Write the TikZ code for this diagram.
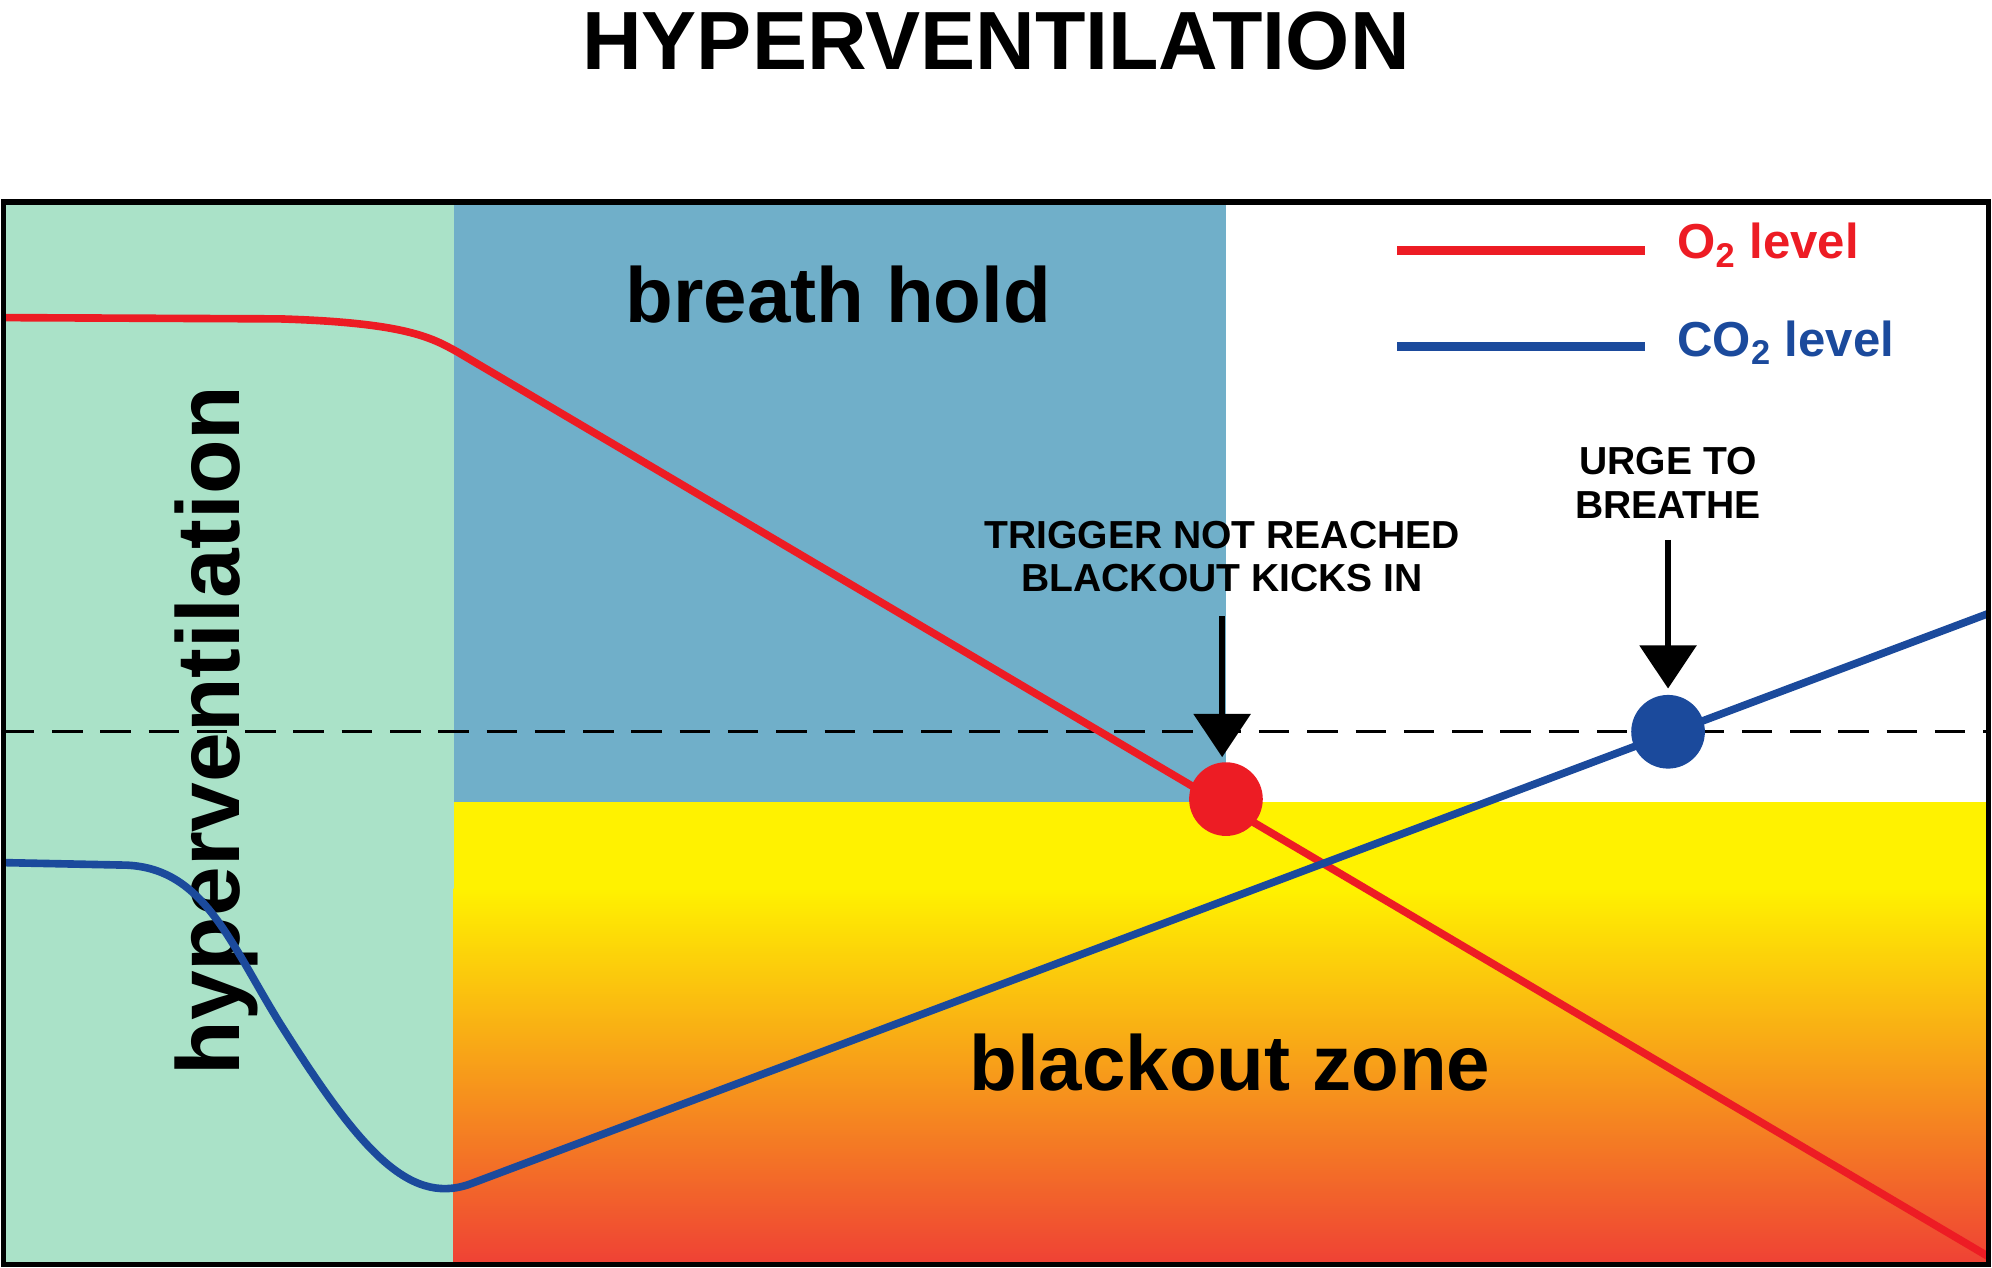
\documentclass[tikz,border=0pt]{standalone}
\usepackage{fontspec}
\setmainfont{Liberation Sans}
\usetikzlibrary{arrows.meta}
\definecolor{hgreen}{HTML}{AAE2C8}
\definecolor{hblue}{HTML}{70AFC9}
\definecolor{hyel}{HTML}{FFF200}
\definecolor{horange}{HTML}{F5A01A}
\definecolor{hred}{HTML}{EF4135}
\definecolor{lred}{HTML}{ED1C24}
\definecolor{lblue}{HTML}{1B4A9C}
\tikzset{
  lbl/.style={font=\fontsize{#1}{#1}\selectfont\bfseries, inner sep=0pt, align=center},
  curve/.style={line width=6*0.02cm},
  pointer/.style={line width=5*0.02cm, -{Triangle[width=44*0.02cm,length=34*0.02cm]}}
}
\begin{document}
\begin{tikzpicture}[x=0.02cm,y=-0.02cm]
\useasboundingbox (0,0) rectangle (1568,998);
% regions
\fill[hgreen] (3,159) rectangle (357,995);
\fill[hblue] (357,159) rectangle (965,631);
\fill[hyel] (357,631) rectangle (1565,700);
\shade[top color=hyel, middle color=horange, bottom color=hred] (357,699) rectangle (1565,995);
\draw[dashed, line width=2*0.02cm, dash pattern=on 24*0.02cm off 14*0.02cm] (3,576) -- (1565,576);
% texts
\node[lbl=37pt] (title) at (784,32) {HYPERVENTILATION};
\node[lbl=35pt] (bh) at (660,232) {breath hold};
\node[lbl=35pt] (bz) at (968,836) {blackout zone};
\node[lbl=40pt, rotate=90] (hv) at (170,575) {hyperventilation};
% curves
\draw[curve, lred] (3,250) -- (220,251) .. controls (320,254) and (340,266) .. (360,277) -- (1565,989);
\draw[curve, lblue] (3,679) -- (100,681) .. controls (160,684) and (180,740) .. (220,805) .. controls (280,900) and (320,950) .. (370,932) -- (1565,483);
% dots
\node[circle, fill=lred, minimum size=58*0.02cm, inner sep=0pt] (rdot) at (965,629) {};
\node[circle, fill=lblue, minimum size=58*0.02cm, inner sep=0pt] (bdot) at (1313,576) {};
% annotations
\node[lbl=17.5pt] (trig) at (962,438) {TRIGGER NOT REACHED\\[2pt]BLACKOUT KICKS IN};
\node[lbl=17.5pt] (urge) at (1313,380) {URGE TO\\[2pt]BREATHE};
\coordinate (ta) at (962,485);
\coordinate (ua) at (1313,425);
\draw[pointer] (ta) -- (962,596);
\draw[pointer] (ua) -- (1313,542);
% legend
\coordinate (l1a) at (1100,197); \coordinate (l1b) at (1295,197);
\coordinate (l2a) at (1100,273); \coordinate (l2b) at (1295,273);
\draw[lred, line width=7*0.02cm] (l1a) -- (l1b);
\draw[lblue, line width=7*0.02cm] (l2a) -- (l2b);
\node[lbl=22pt, text=lred, anchor=west] (o2) at (1320,193) {O\textsubscript{2} level};
\node[lbl=22pt, text=lblue, anchor=west] (co2) at (1320,270) {CO\textsubscript{2} level};
% frame
\draw[line width=4*0.02cm] (3,159) rectangle (1565,995);
\end{tikzpicture}
\end{document}
